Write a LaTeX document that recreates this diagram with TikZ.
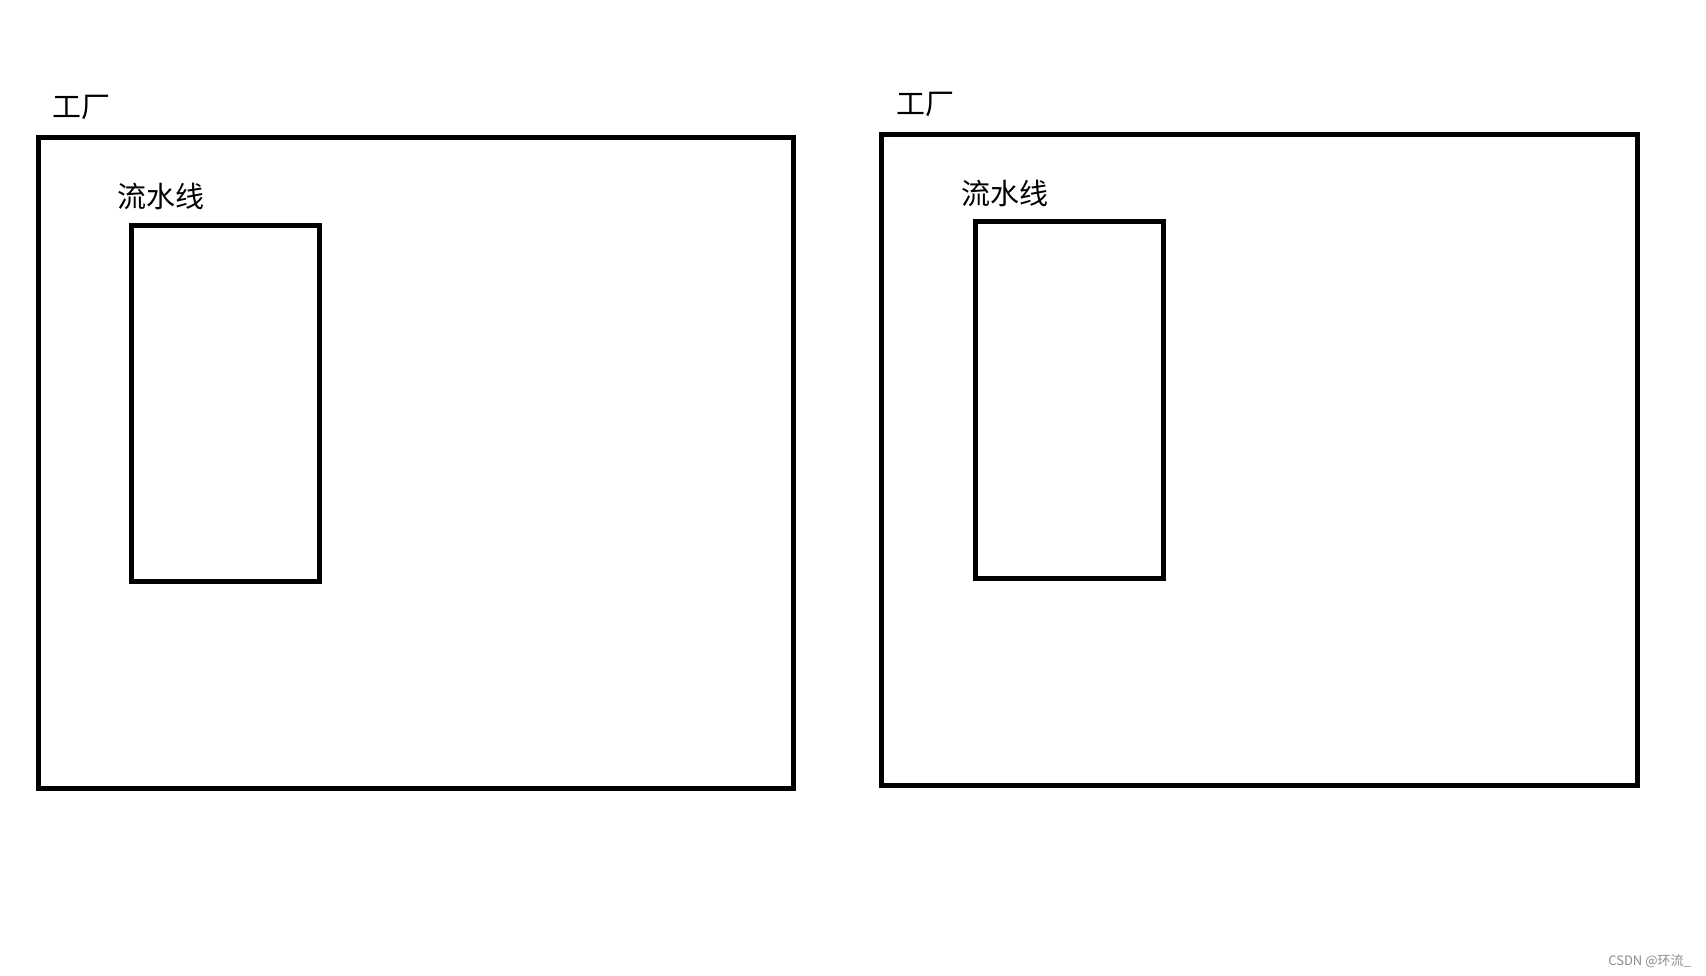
\documentclass[tikz,border=0pt]{standalone}
\usepackage{fontspec}
\setmainfont{Noto Sans CJK SC}
\newfontfamily\cjk{Noto Sans CJK SC}
\begin{document}
\begin{tikzpicture}[x=1pt,y=-1pt,
  frame/.style={draw=black, line width=5pt, rectangle, inner sep=0pt, outer sep=0pt},
  lbl/.style={anchor=base west, inner sep=0pt, font=\cjk\fontsize{29}{29}\selectfont}]
\useasboundingbox[fill=white] (0,0) rectangle (1706,975);
% left factory
\node[frame, minimum width=755.5pt, minimum height=650.5pt] (f1) at (415.75,462.75) {};
\node[frame, minimum width=188pt, minimum height=355.5pt] (p1) at (225.5,403.25) {};
\node[lbl] (t1) at (52,117.5) {工厂};
\node[lbl] (l1) at (117.5,207.5) {流水线};
% right factory
\node[frame, minimum width=756.5pt, minimum height=651pt] (f2) at (1259.25,460) {};
\node[frame, minimum width=188pt, minimum height=357pt] (p2) at (1069.5,400) {};
\node[lbl] (t2) at (896,114.5) {工厂};
\node[lbl] (l2) at (961.5,204.5) {流水线};
% watermark
\node[anchor=base east, inner sep=0pt, text=black!45, font=\cjk\fontsize{13}{13}\selectfont] (wm) at (1691,965) {CSDN @环流\_};
\end{tikzpicture}
\end{document}
